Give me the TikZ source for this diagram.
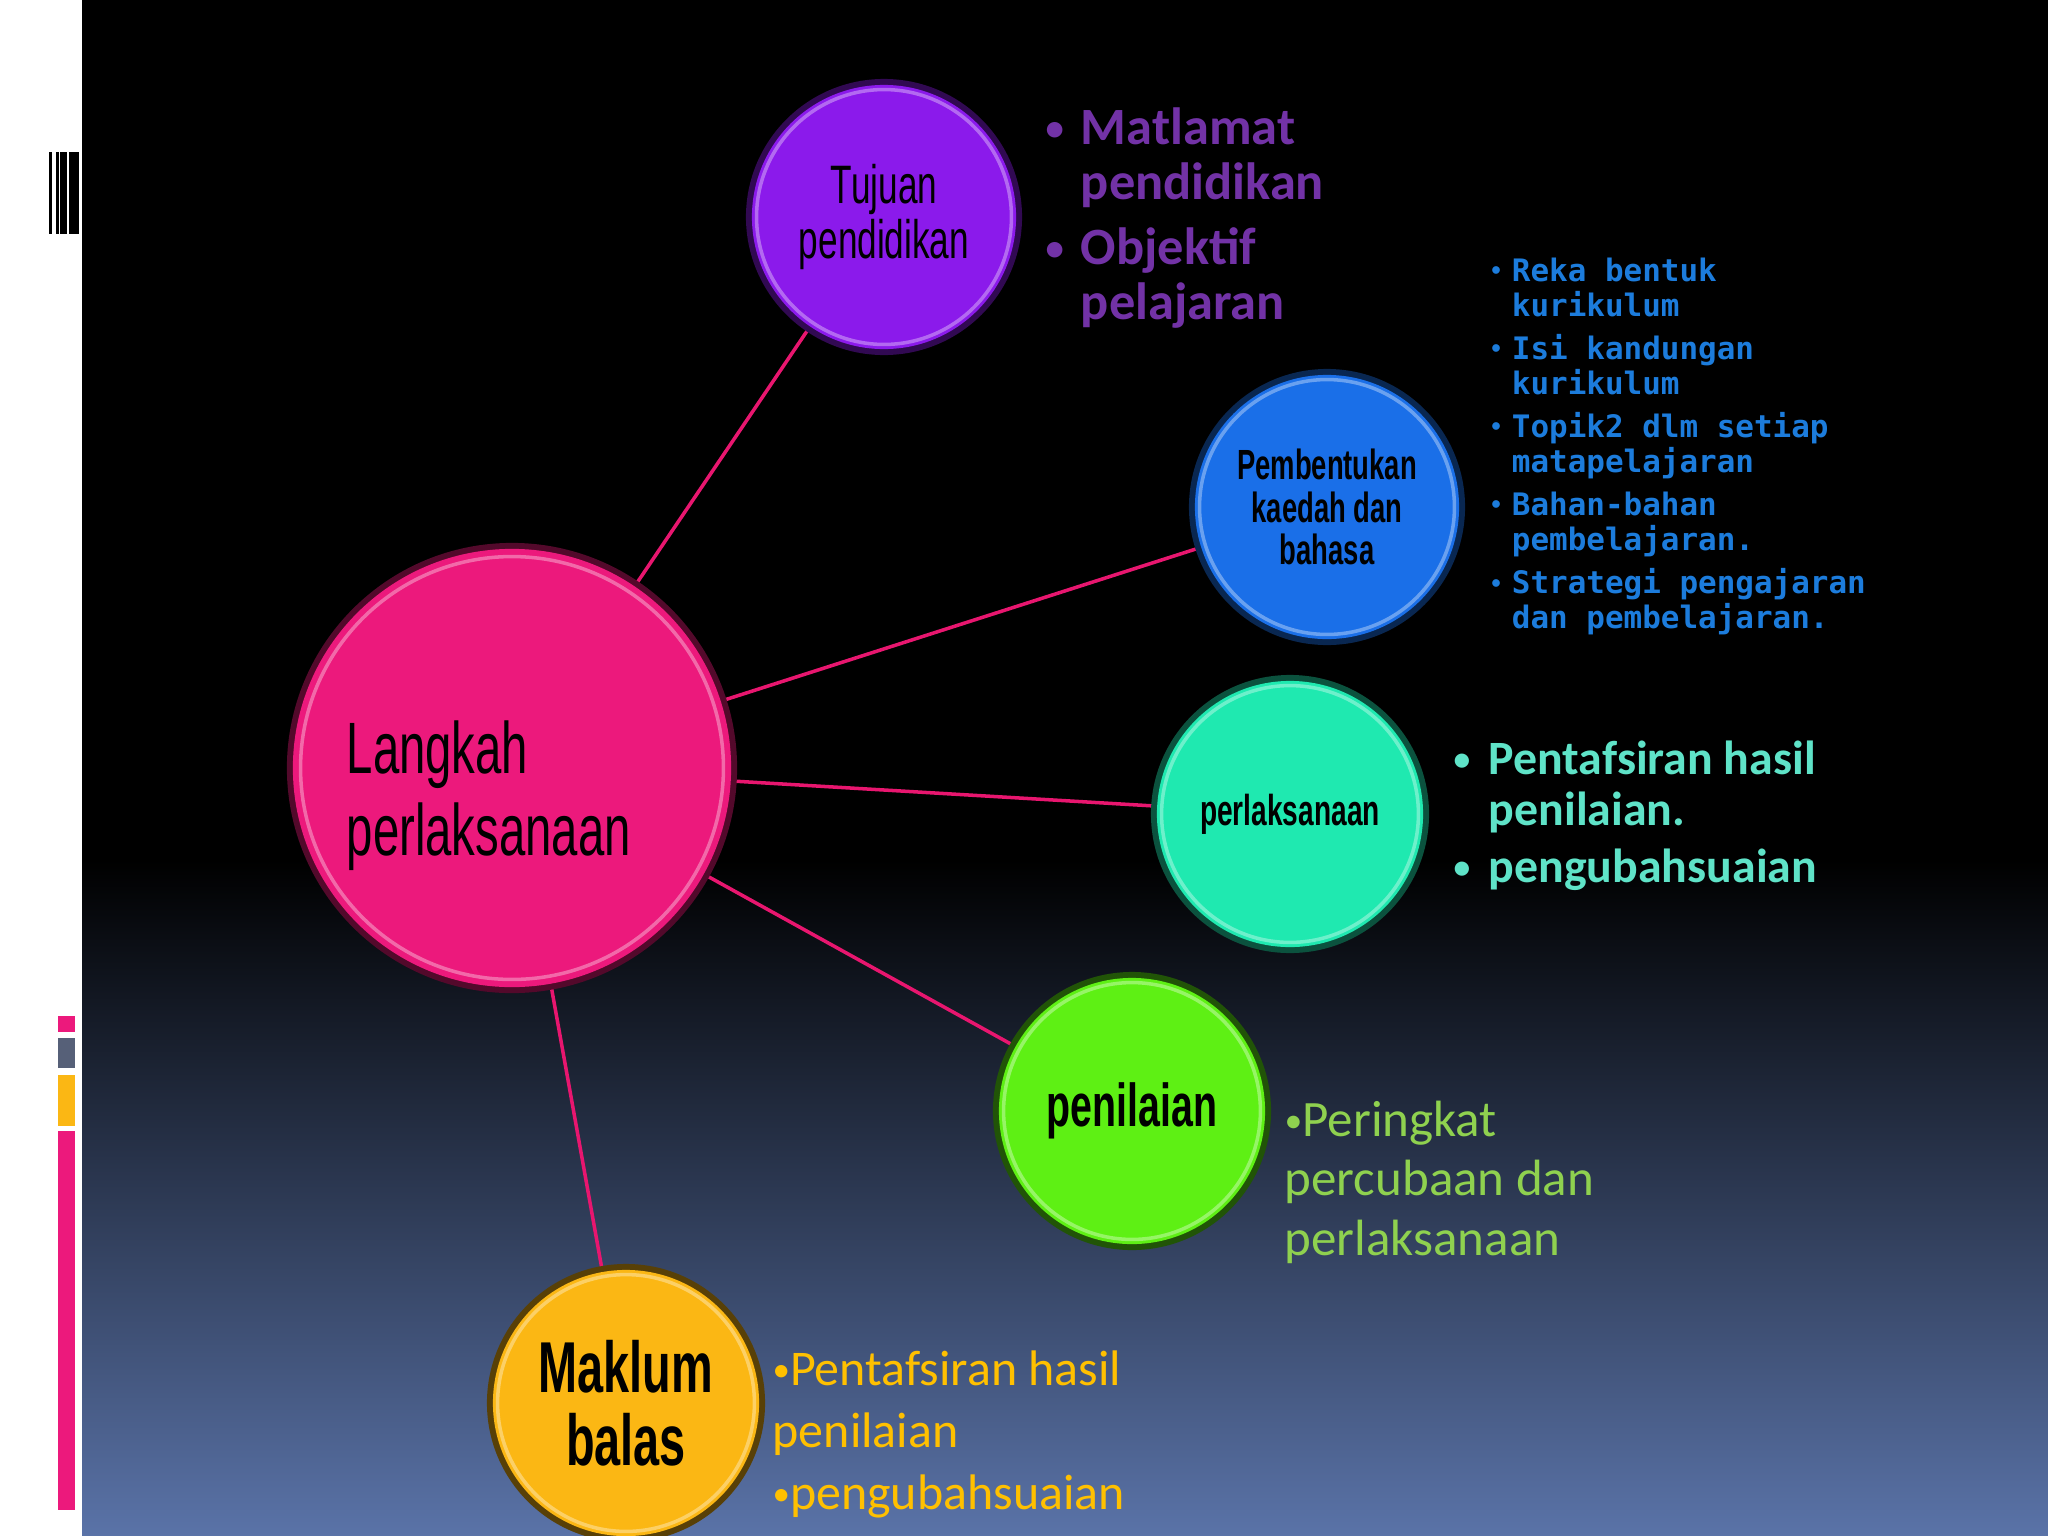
\documentclass[tikz,border=0pt]{standalone}
\usepackage{fontspec}
\setmainfont{Carlito}
\newfontfamily\agency[FakeStretch=0.65]{Liberation Sans}
\newfontfamily\consol{DejaVu Sans Mono}
\usetikzlibrary{calc}

\definecolor{bubblepurple}{HTML}{8B1AEB}
\definecolor{bubbleblue}{HTML}{1A6FE8}
\definecolor{bubbleteal}{HTML}{1FE9B0}
\definecolor{bubblegreen}{HTML}{5EF014}
\definecolor{bubbleyellow}{HTML}{FBB714}
\definecolor{bubblepink}{HTML}{EC197C}
\definecolor{linkpink}{HTML}{E8166F}
\definecolor{textpurple}{HTML}{7232A6}
\definecolor{textblue}{HTML}{1C7CDC}
\definecolor{textteal}{HTML}{5FE3C8}
\definecolor{textgreen}{HTML}{8FD14F}
\definecolor{textgold}{HTML}{FFC000}
\definecolor{bargray}{HTML}{566078}
\definecolor{bgmiddle}{HTML}{1C2333}
\definecolor{bgbottom}{HTML}{5A73A8}

\newcommand\dotb{\raisebox{.08em}{\scalebox{.7}{•}}}
\newcommand\bul[1]{\makebox[#1][l]{\dotb}}

\pgfdeclarelayer{back}
\pgfdeclarelayer{links}
\pgfsetlayers{back,links,main}

\tikzset{
  bubble/.style={circle, fill=#1, inner sep=0pt, align=center, text=black,
    preaction={draw=#1!35!black, line width=3.4pt},
    path picture={\draw[white, opacity=.35, line width=1pt]
      let \p1=(path picture bounding box.center), \p2=(path picture bounding box.east)
      in (\p1) circle[radius={0.965*(\x2-\x1)}];}},
  link/.style={draw=linkpink, line width=1pt},
  note/.style={anchor=north west, align=left, inner sep=0pt},
}

\begin{document}
\begin{tikzpicture}[x=0.01cm, y=-0.01cm]
  \useasboundingbox (0,0) rectangle (2048,1536);

  \begin{pgfonlayer}{back}
    \fill[white] (0,0) rectangle (2048,1536);
    \fill[black] (82,0) rectangle (2048,1536);
    \shade[top color=black, middle color=bgmiddle, bottom color=bgbottom] (82,860) rectangle (2048,1536);
    \foreach \a/\b in {49/52,56/59,60/67,69/79}
      \fill[black] (\a,152) rectangle (\b,234);
    \fill[bubblepink] (58,1016) rectangle (75,1032);
    \fill[bargray] (58,1038) rectangle (75,1068);
    \fill[bubbleyellow] (58,1075) rectangle (75,1126);
    \fill[bubblepink] (58,1131) rectangle (75,1510);
  \end{pgfonlayer}

  \node[bubble=bubblepink, minimum size=4.38cm] (langkah) at (512,768) {};
  \node[anchor=west, align=left, inner sep=0pt, font={\agency\fontsize{20.7}{23.4}\selectfont}] (langkahtxt) at (346,796) {Langkah\\perlaksanaan};

  \node[bubble=bubblepurple, minimum size=2.64cm, font={\agency\fontsize{15.4}{15.6}\selectfont}] (tujuan) at (884,217) {Tujuan\\pendidikan};
  \node[bubble=bubbleblue, minimum size=2.64cm, font={\agency\bfseries\fontsize{12}{12.2}\selectfont}] (pembentukan) at (1327,507) {Pembentukan\\kaedah dan\\bahasa};
  \node[bubble=bubbleteal, minimum size=2.66cm, font={\agency\bfseries\fontsize{12.3}{13}\selectfont}] (pelaksanaan) at (1290,814) {perlaksanaan};
  \node[bubble=bubblegreen, minimum size=2.66cm, font={\agency\bfseries\fontsize{17.2}{18}\selectfont}] (penilaian) at (1132,1111) {penilaian};
  \node[bubble=bubbleyellow, minimum size=2.66cm, font={\agency\bfseries\fontsize{20.5}{20.8}\selectfont}] (maklum) at (626,1403) {Maklum\\balas};

  \begin{pgfonlayer}{links}
    \foreach \n in {tujuan,pembentukan,pelaksanaan,penilaian,maklum}
      \draw[link] (langkah.center) -- (\n.center);
  \end{pgfonlayer}

  \node[note, text=textpurple, font={\bfseries\fontsize{14.9}{15.6}\selectfont}] (tujuannote) at (1045,107)
    {\bul{10pt}Matlamat\\\hspace*{10pt}pendidikan\\[3pt]\bul{10pt}Objektif\\\hspace*{10pt}pelajaran};
  \node[note, text=textblue, font={\consol\bfseries\fontsize{8.8}{10}\selectfont}] (pembentukannote) at (1489,257)
    {\bul{6.3pt}Reka bentuk\\\hspace*{6.3pt}kurikulum\\[2.2pt]
     \bul{6.3pt}Isi kandungan\\\hspace*{6.3pt}kurikulum\\[2.2pt]
     \bul{6.3pt}Topik2 dlm setiap\\\hspace*{6.3pt}matapelajaran\\[2.2pt]
     \bul{6.3pt}Bahan-bahan\\\hspace*{6.3pt}pembelajaran.\\[2.2pt]
     \bul{6.3pt}Strategi pengajaran\\\hspace*{6.3pt}dan pembelajaran.};
  \node[note, text=textteal, font={\bfseries\fontsize{13.6}{14.5}\selectfont}] (pelaksanaannote) at (1453,740)
    {\bul{10pt}Pentafsiran hasil\\\hspace*{10pt}penilaian.\\[1.7pt]\bul{10pt}pengubahsuaian};
  \node[note, text=textgreen, font={\fontsize{14.5}{17}\selectfont}] (penilaiannote) at (1284,1100)
    {\dotb Peringkat\\percubaan dan\\perlaksanaan};
  \node[note, text=textgold, font={\fontsize{14.2}{17.6}\selectfont}] (maklumnote) at (772,1350)
    {\dotb Pentafsiran hasil\\penilaian\\\dotb pengubahsuaian};
\end{tikzpicture}
\end{document}
